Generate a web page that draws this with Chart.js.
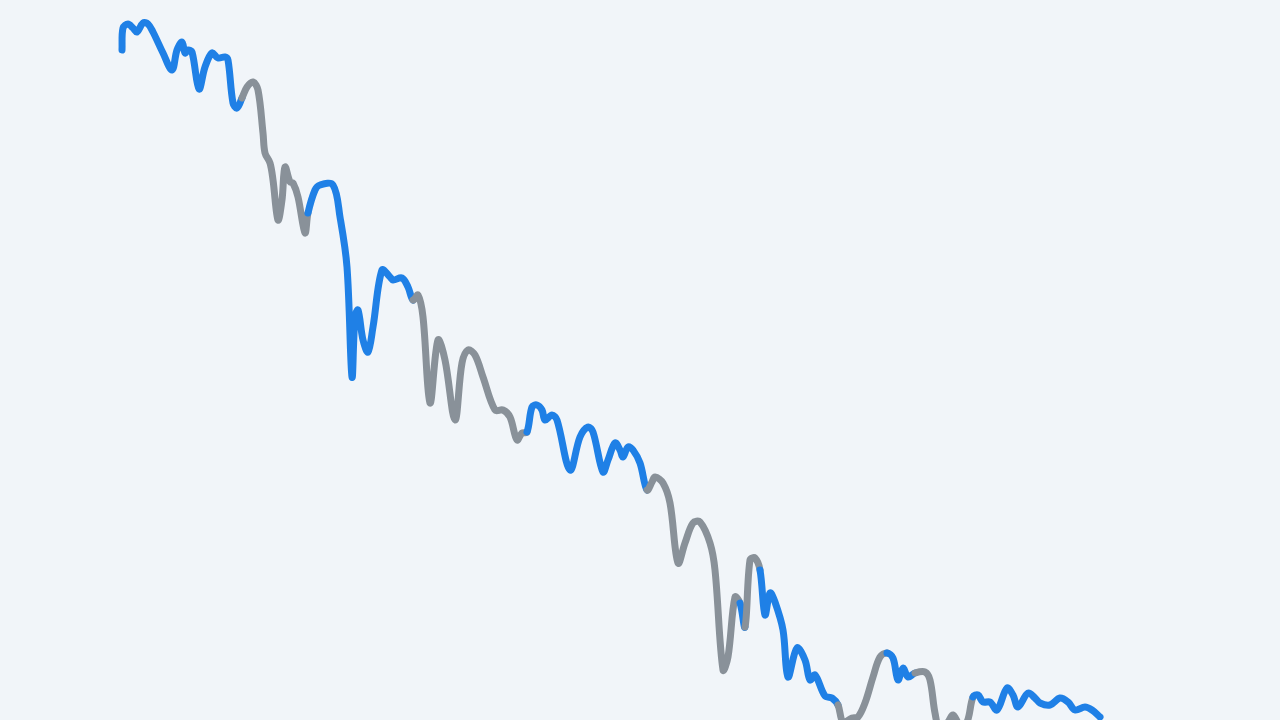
<!DOCTYPE html>
<html>
<head>
<meta charset="utf-8">
<script src="https://cdn.jsdelivr.net/npm/chart.js@4"></script>
<style>
  html, body { margin: 0; padding: 0; background: #f1f5f9; }
  #wrap { width: 1280px; height: 720px; position: relative; }
</style>
</head>
<body>
<div id="wrap"><canvas id="trendChart"></canvas></div>
<script>
// Day position and value
const days = [122,123,128,133,137,143,148,153,163,172,177,182,185,188,192,199,205,212,218,225,228,233,237,
  242,247,253,258,263,265,270,273,278,282,285,290,293,298,305,
  308,315,320,333,340,347,352,355,358,363,368,373,382,390,393,402,408,
  413,418,423,430,438,445,455,462,468,475,483,495,503,510,517,522,
  527,532,537,542,545,552,557,570,580,588,593,603,608,615,620,623,628,633,640,
  647,652,655,663,670,678,685,693,700,710,715,723,728,
  735,740,745,750,755,760,765,770,775,783,788,797,805,810,815,825,832,
  838,843,852,858,865,873,880,887,893,898,903,908,
  915,925,930,935,940,948,953,960,967,
  973,978,983,990,997,1007,1013,1018,1028,1035,1040,1050,1060,1068,1075,1085,1092,1100];

const values = [670,692,696,692,688,697,696,688,667,650,670,678,667,670,668,631,653,667,662,663,660,617,612,
  622,633,638,630,587,567,557,540,500,520,553,538,537,523,487,
  507,530,535,535,503,453,343,403,410,380,368,393,450,443,440,442,433,
  420,425,403,317,380,360,300,357,370,365,343,310,310,303,280,287,
  288,313,315,310,300,305,300,250,283,293,288,248,260,277,270,263,273,270,257,
  230,238,243,237,217,157,177,197,198,177,150,50,63,
  123,117,93,160,162,150,105,127,118,90,43,72,60,40,45,24,22,
  15,-2,2,3,17,43,63,67,62,40,52,43,
  47,48,40,7,-10,-2,5,-5,-2,
  23,25,18,18,10,32,25,13,27,22,17,15,22,18,10,13,10,3];

// 1 = blue run, 0 = grey run (colour of the segment starting at that point)
const trend = [1,1,1,1,1,1,1,1,1,1,1,1,1,1,1,1,1,1,1,1,1,1,1,
  0,0,0,0,0,0,0,0,0,0,0,0,0,0,0,
  1,1,1,1,1,1,1,1,1,1,1,1,1,1,1,1,1,
  0,0,0,0,0,0,0,0,0,0,0,0,0,0,0,0,
  1,1,1,1,1,1,1,1,1,1,1,1,1,1,1,1,1,1,1,
  0,0,0,0,0,0,0,0,0,0,0,0,0,
  0,1,0,0,0,1,1,1,1,1,1,1,1,1,1,1,1,
  0,0,0,0,0,0,0,1,1,1,1,1,
  0,0,0,0,0,0,0,0,0,
  1,1,1,1,1,1,1,1,1,1,1,1,1,1,1,1,1,1];

const blue = '#1f80e6';
const grey = '#899199';

const ctx = document.getElementById('trendChart').getContext('2d');
const trendChart = new Chart(ctx, {
  type: 'line',
  data: {
    datasets: [{
      data: days.map((d, i) => ({ x: d, y: values[i] })),
      borderWidth: 7,
      borderColor: blue,
      borderCapStyle: 'round',
      borderJoinStyle: 'round',
      pointRadius: 0,
      tension: 0.35,
      fill: false,
      segment: {
        borderColor: c => trend[c.p0DataIndex] ? blue : grey
      }
    }]
  },
  options: {
    responsive: true,
    maintainAspectRatio: false,
    animation: false,
    layout: { padding: 0 },
    plugins: { legend: { display: false }, tooltip: { enabled: false } },
    scales: {
      x: { type: 'linear', min: 0, max: 1280, display: false },
      y: { min: 0, max: 720, display: false }
    }
  }
});
</script>
</body>
</html>
